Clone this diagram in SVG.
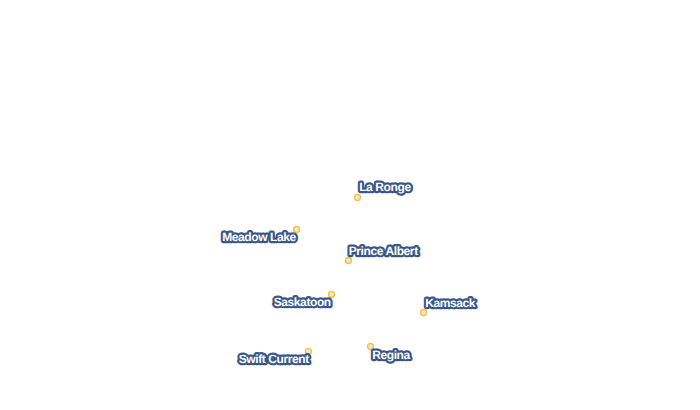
<svg xmlns="http://www.w3.org/2000/svg" width="700" height="410" viewBox="0 0 700 410">
<style>
.d{fill:#e8e8e8;stroke:#f8c440;stroke-width:1.5}
.l{font-family:"Liberation Sans",Arial,sans-serif;font-size:12px;letter-spacing:-0.4px;font-weight:bold;text-rendering:geometricPrecision;fill:#fff;stroke:#3a5688;stroke-width:4.4px;stroke-linejoin:round;paint-order:stroke fill}
</style>
<rect width="700" height="410" fill="#fff"/>
<g id="la-ronge"><circle class="d" cx="357.500" cy="197.500" r="2.900"/><text class="l" x="359.200" y="191">La Ronge</text></g>
<g id="meadow-lake"><circle class="d" cx="296.500" cy="229.500" r="2.900"/><text class="l" x="222.200" y="241.200">Meadow Lake</text></g>
<g id="prince-albert"><circle class="d" cx="348.500" cy="260.500" r="2.900"/><text class="l" x="348.700" y="255.200">Prince Albert</text></g>
<g id="saskatoon"><circle class="d" cx="331.500" cy="294.500" r="2.900"/><text class="l" x="273.700" y="306.200">Saskatoon</text></g>
<g id="kamsack"><circle class="d" cx="423.500" cy="312.500" r="2.900"/><text class="l" x="425.200" y="307.200">Kamsack</text></g>
<g id="regina"><circle class="d" cx="370.500" cy="346.500" r="2.900"/><text class="l" x="372.200" y="359.200">Regina</text></g>
<g id="swift-current"><circle class="d" cx="308.500" cy="351.500" r="2.900"/><text class="l" x="238.700" y="363.200">Swift Current</text></g>
<g id="connectors"/>
</svg>
